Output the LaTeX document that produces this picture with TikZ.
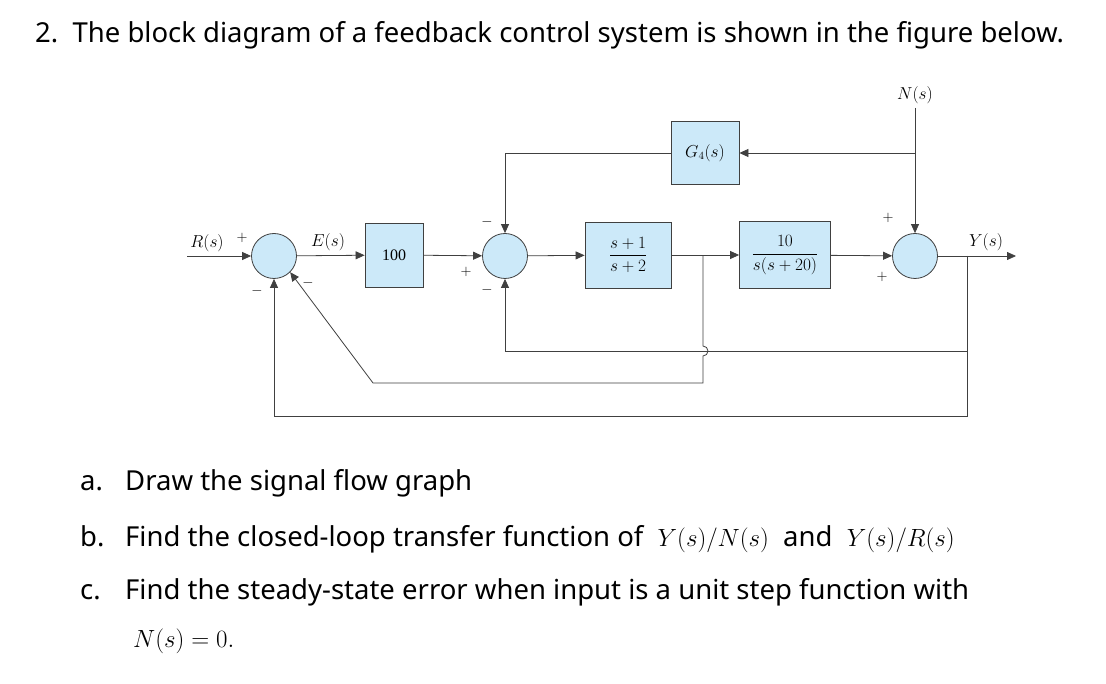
\documentclass[tikz,border=0pt]{standalone}
\usepackage{amsmath}
\usepackage{fontspec}
\setmainfont{Noto Sans}
\newfontfamily\dgm{Liberation Serif}
\usetikzlibrary{arrows.meta}
\definecolor{blockblue}{HTML}{CCE9F9}
\begin{document}
\begin{tikzpicture}[x=1pt,y=-1pt,
  blk/.style={draw=black!75, fill=blockblue, line width=0.8pt, inner sep=0pt},
  sum/.style={circle, draw=black!75, fill=blockblue, line width=0.8pt, minimum size=45pt, inner sep=0pt},
  sig/.style={line width=0.8pt, draw=black!75, -{Triangle[length=9pt,width=8pt]}},
  lbl/.style={font=\dgm\fontsize{16}{18}\selectfont, inner sep=0pt},
  sgn/.style={font=\dgm\fontsize{14}{15}\selectfont, inner sep=0pt},
  txt/.style={anchor=base west, inner sep=0pt, font=\fontsize{27.5}{32}\selectfont}]
\useasboundingbox (0,0) rectangle (1106,684);
\fill[white] (0,0) rectangle (1106,684);

% question text
\node[txt] (title) at (35,43) {2.\ \ The block diagram of a feedback control system is shown in the figure below.};
\node[txt] (ia) at (80,490) {a.};
\node[txt] (ta) at (125,490) {Draw the signal flow graph};
\node[txt] (ib) at (80,546) {b.};
\node[txt] (tb) at (125,546) {Find the closed-loop transfer function of \ $\fontsize{36}{40}\selectfont Y(s)/N(s)$ \ and \ $\fontsize{36}{40}\selectfont Y(s)/R(s)$};
\node[txt] (ic) at (80,599) {c.};
\node[txt] (tc) at (125,599) {Find the steady-state error when input is a unit step function with};
\node[txt] (td) at (133,647) {$\fontsize{37}{40}\selectfont N(s)=0.$};

% blocks and summing points
\node[sum] (s1) at (274,256) {};
\node[blk, minimum width=58pt, minimum height=64pt] (b1) at (394,255) {\dgm\fontsize{16}{18}\selectfont 100};
\node[sum] (s2) at (505,256) {};
\node[blk, minimum width=86pt, minimum height=66pt] (b2) at (628,255) {\dgm\fontsize{16}{18}\selectfont $\dfrac{s+1}{s+2}$};
\node[blk, minimum width=91pt, minimum height=67pt] (b3) at (785,255) {\dgm\fontsize{16}{18}\selectfont $\dfrac{10}{s(s+20)}$};
\node[sum] (s3) at (915,256) {};
\node[blk, minimum width=68pt, minimum height=63pt] (g4) at (705,153) {\dgm\fontsize{16}{18}\selectfont $G_4(s)$};

% signal labels
\node[lbl] (lr) at (207,243) {$R(s)$};
\node[lbl] (le) at (328,242) {$E(s)$};
\node[lbl] (ly) at (986,242) {$Y(s)$};
\node[lbl] (ln) at (915,95) {$N(s)$};

% signs
\node[sgn] at (242,238) {$+$};
\node[sgn] at (257,291) {$-$};
\node[sgn] at (308,283) {$-$};
\node[sgn] at (487,222) {$-$};
\node[sgn] at (466,272) {$+$};
\node[sgn] at (487,290) {$-$};
\node[sgn] at (888,218) {$+$};
\node[sgn] at (882,277) {$+$};

% coordinates
\coordinate (rin) at (187,256);
\coordinate (yout) at (1016,256);
\coordinate (ybr) at (967,256);
\coordinate (abr) at (703,256);
\coordinate (ntop) at (915,108);
\coordinate (nbr) at (915,153);
\coordinate (gl) at (505,153);
\coordinate (fi) at (967,351);
\coordinate (fil) at (505,351);
\coordinate (fo) at (967,416);
\coordinate (fol) at (274,416);
\coordinate (hop) at (703,346);
\coordinate (dg) at (703,383);
\coordinate (dgl) at (373,383);

% forward path
\draw[sig] (rin) -- (s1);
\draw[sig] (s1) -- (b1);
\draw[sig] (b1) -- (s2);
\draw[sig] (s2) -- (b2);
\draw[sig] (b2) -- (b3);
\draw[sig] (b3) -- (s3);
\draw[sig] (s3) -- (yout);

% disturbance and G4
\draw[sig] (ntop) -- (s3);
\draw[sig] (nbr) -- (g4);
\draw[sig] (g4) -- (gl) -- (s2);

% feedback paths
\draw[sig] (ybr) -- (fi) -- (fil) -- (s2);
\draw[sig] (abr) -- (hop) arc[start angle=90, end angle=-90, radius=5pt] -- (dg) -- (dgl) -- (s1.-45);
\draw[sig] (ybr) -- (fo) -- (fol) -- (s1);
\end{tikzpicture}
\end{document}
